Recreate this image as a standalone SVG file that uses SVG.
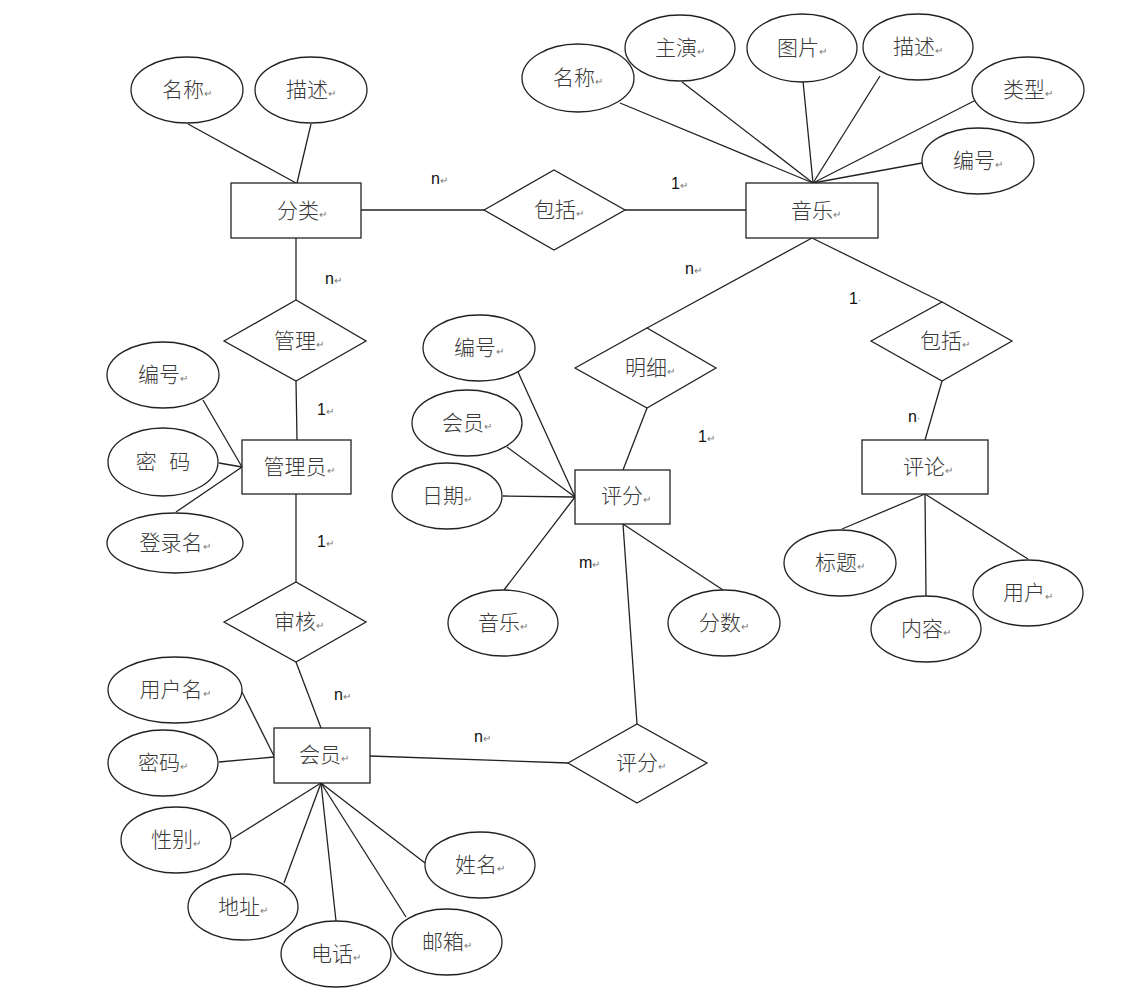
<svg xmlns="http://www.w3.org/2000/svg" width="1133" height="1002" viewBox="0 0 1133 1002">
<style>
.s{fill:#fff;stroke:#222;stroke-width:1.3}
.l{stroke:#222;stroke-width:1.3;fill:none}
.t{font-family:"Noto Sans CJK SC","Noto Sans",sans-serif;font-size:21px;font-weight:300;fill:#3a3a3a;text-anchor:middle}
.m{font-size:10px;fill:#777}
.c{font-family:"Liberation Sans",Arial,sans-serif;font-size:16px;fill:#111}
</style>
<rect width="1133" height="1002" fill="#fff"/>
<g id="connectors" class="l">
<line x1="188" y1="124" x2="296" y2="183"/>
<line x1="311" y1="124" x2="297" y2="183"/>
<line x1="361" y1="210" x2="484" y2="210"/>
<line x1="625" y1="210" x2="746" y2="210"/>
<line x1="620" y1="103" x2="813" y2="183"/>
<line x1="682" y1="82" x2="813" y2="183"/>
<line x1="803" y1="81" x2="813" y2="183"/>
<line x1="880" y1="76" x2="813" y2="183"/>
<line x1="976" y1="100" x2="813" y2="183"/>
<line x1="922" y1="163" x2="813" y2="183"/>
<line x1="296" y1="238" x2="296" y2="300"/>
<line x1="296" y1="381" x2="297" y2="440"/>
<line x1="203" y1="400" x2="242" y2="467"/>
<line x1="219" y1="463" x2="242" y2="467"/>
<line x1="176" y1="512" x2="242" y2="467"/>
<line x1="296" y1="494" x2="296" y2="582"/>
<line x1="296" y1="662" x2="321" y2="728"/>
<line x1="242" y1="692" x2="274" y2="756"/>
<line x1="219" y1="762" x2="274" y2="757"/>
<line x1="230" y1="840" x2="321" y2="783"/>
<line x1="284" y1="883" x2="321" y2="783"/>
<line x1="336" y1="921" x2="321" y2="783"/>
<line x1="406" y1="917" x2="321" y2="783"/>
<line x1="425" y1="863" x2="321" y2="783"/>
<line x1="370" y1="756" x2="568" y2="763"/>
<line x1="637" y1="724" x2="623" y2="524"/>
<line x1="812" y1="238" x2="647" y2="328"/>
<line x1="647" y1="408" x2="623" y2="470"/>
<line x1="518" y1="372" x2="575" y2="497"/>
<line x1="507" y1="447" x2="575" y2="497"/>
<line x1="503" y1="496" x2="575" y2="497"/>
<line x1="504" y1="590" x2="575" y2="497"/>
<line x1="623" y1="524" x2="723" y2="590"/>
<line x1="812" y1="238" x2="942" y2="302"/>
<line x1="942" y1="381" x2="925" y2="440"/>
<line x1="925" y1="494" x2="842" y2="529"/>
<line x1="925" y1="494" x2="926" y2="596"/>
<line x1="925" y1="494" x2="1028" y2="559"/>
</g>
<g id="cardinalities" class="c">
<text x="431" y="184">n<tspan class="m">↵</tspan></text>
<text x="671" y="189">1<tspan class="m">↵</tspan></text>
<text x="325" y="284">n<tspan class="m">↵</tspan></text>
<text x="317" y="415">1<tspan class="m">↵</tspan></text>
<text x="317" y="547">1<tspan class="m">↵</tspan></text>
<text x="334" y="700">n<tspan class="m">↵</tspan></text>
<text x="474" y="742">n<tspan class="m">↵</tspan></text>
<text x="579" y="568">m<tspan class="m">↵</tspan></text>
<text x="685" y="274">n<tspan class="m">↵</tspan></text>
<text x="698" y="442">1<tspan class="m">↵</tspan></text>
<text x="849" y="304">1<tspan class="m">·</tspan></text>
<text x="908" y="422">n<tspan class="m">·</tspan></text>
</g>
<g id="fenlei"><rect class="s" x="231" y="183" width="130" height="55"/><text class="t" x="302" y="218">分类<tspan class="m">↵</tspan></text></g>
<g id="fenlei-mingcheng"><ellipse class="s" cx="187" cy="90" rx="56" ry="33"/><text class="t" x="187" y="97">名称<tspan class="m">↵</tspan></text></g>
<g id="fenlei-miaoshu"><ellipse class="s" cx="311" cy="90" rx="56" ry="33"/><text class="t" x="311" y="97">描述<tspan class="m">↵</tspan></text></g>
<g id="baokuo1"><polygon class="s" points="484,210 554,170 625,210 554,250"/><text class="t" x="559" y="217">包括<tspan class="m">↵</tspan></text></g>
<g id="yinyue"><rect class="s" x="746" y="183" width="132" height="55"/><text class="t" x="816" y="218">音乐<tspan class="m">↵</tspan></text></g>
<g id="yy-mingcheng"><ellipse class="s" cx="578" cy="78" rx="56" ry="34"/><text class="t" x="578" y="85">名称<tspan class="m">↵</tspan></text></g>
<g id="yy-zhuyan"><ellipse class="s" cx="680" cy="48" rx="55" ry="33"/><text class="t" x="680" y="55">主演<tspan class="m">↵</tspan></text></g>
<g id="yy-tupian"><ellipse class="s" cx="802" cy="48" rx="55" ry="34"/><text class="t" x="802" y="55">图片<tspan class="m">↵</tspan></text></g>
<g id="yy-miaoshu"><ellipse class="s" cx="918" cy="47" rx="55" ry="33"/><text class="t" x="918" y="54">描述<tspan class="m">↵</tspan></text></g>
<g id="yy-leixing"><ellipse class="s" cx="1028" cy="90" rx="56" ry="33"/><text class="t" x="1028" y="97">类型<tspan class="m">↵</tspan></text></g>
<g id="yy-bianhao"><ellipse class="s" cx="978" cy="161" rx="56" ry="33"/><text class="t" x="978" y="168">编号<tspan class="m">↵</tspan></text></g>
<g id="guanli"><polygon class="s" points="224,341 296,300 366,341 296,381"/><text class="t" x="299" y="348">管理<tspan class="m">↵</tspan></text></g>
<g id="guanliyuan"><rect class="s" x="242" y="440" width="109" height="54"/><text class="t" x="299" y="474">管理员<tspan class="m">↵</tspan></text></g>
<g id="gly-bianhao"><ellipse class="s" cx="163" cy="375" rx="56" ry="33"/><text class="t" x="163" y="382">编号<tspan class="m">↵</tspan></text></g>
<g id="gly-mima"><ellipse class="s" cx="163" cy="462" rx="55" ry="34"/><text class="t" x="163" y="469" word-spacing="8">密 码</text></g>
<g id="gly-dengluming"><ellipse class="s" cx="175" cy="543" rx="68" ry="30"/><text class="t" x="175" y="550">登录名<tspan class="m">↵</tspan></text></g>
<g id="shenhe"><polygon class="s" points="224,622 296,582 366,622 296,662"/><text class="t" x="299" y="629">审核<tspan class="m">↵</tspan></text></g>
<g id="huiyuan"><rect class="s" x="274" y="728" width="96" height="55"/><text class="t" x="324" y="762">会员<tspan class="m">↵</tspan></text></g>
<g id="hy-yonghuming"><ellipse class="s" cx="175" cy="690" rx="67" ry="33"/><text class="t" x="175" y="697">用户名<tspan class="m">↵</tspan></text></g>
<g id="hy-mima"><ellipse class="s" cx="163" cy="763" rx="55" ry="33"/><text class="t" x="163" y="770">密码<tspan class="m">↵</tspan></text></g>
<g id="hy-xingbie"><ellipse class="s" cx="176" cy="840" rx="55" ry="33"/><text class="t" x="176" y="847">性别<tspan class="m">↵</tspan></text></g>
<g id="hy-dizhi"><ellipse class="s" cx="243" cy="907" rx="55" ry="33"/><text class="t" x="243" y="914">地址<tspan class="m">↵</tspan></text></g>
<g id="hy-dianhua"><ellipse class="s" cx="336" cy="954" rx="55" ry="33"/><text class="t" x="336" y="961">电话<tspan class="m">↵</tspan></text></g>
<g id="hy-youxiang"><ellipse class="s" cx="447" cy="942" rx="55" ry="33"/><text class="t" x="447" y="949">邮箱<tspan class="m">↵</tspan></text></g>
<g id="hy-xingming"><ellipse class="s" cx="480" cy="865" rx="55" ry="33"/><text class="t" x="480" y="872">姓名<tspan class="m">↵</tspan></text></g>
<g id="pingfen-rel"><polygon class="s" points="568,763 637,724 707,763 637,803"/><text class="t" x="641" y="770">评分<tspan class="m">↵</tspan></text></g>
<g id="mingxi"><polygon class="s" points="575,368 647,328 716,368 647,408"/><text class="t" x="650" y="375">明细<tspan class="m">↵</tspan></text></g>
<g id="pingfen"><rect class="s" x="575" y="470" width="95" height="54"/><text class="t" x="626" y="503">评分<tspan class="m">↵</tspan></text></g>
<g id="pf-bianhao"><ellipse class="s" cx="479" cy="348" rx="56" ry="33"/><text class="t" x="479" y="355">编号<tspan class="m">↵</tspan></text></g>
<g id="pf-huiyuan"><ellipse class="s" cx="467" cy="423" rx="55" ry="33"/><text class="t" x="467" y="430">会员<tspan class="m">↵</tspan></text></g>
<g id="pf-riqi"><ellipse class="s" cx="447" cy="496" rx="55" ry="33"/><text class="t" x="447" y="503">日期<tspan class="m">↵</tspan></text></g>
<g id="pf-yinyue"><ellipse class="s" cx="503" cy="623" rx="55" ry="33"/><text class="t" x="503" y="630">音乐<tspan class="m">↵</tspan></text></g>
<g id="pf-fenshu"><ellipse class="s" cx="724" cy="623" rx="56" ry="33"/><text class="t" x="724" y="630">分数<tspan class="m">↵</tspan></text></g>
<g id="baokuo2"><polygon class="s" points="871,341 942,302 1012,341 942,381"/><text class="t" x="945" y="348">包括<tspan class="m">↵</tspan></text></g>
<g id="pinglun"><rect class="s" x="862" y="440" width="126" height="54"/><text class="t" x="928" y="474">评论<tspan class="m">↵</tspan></text></g>
<g id="pl-biaoti"><ellipse class="s" cx="840" cy="563" rx="56" ry="33"/><text class="t" x="840" y="570">标题<tspan class="m">↵</tspan></text></g>
<g id="pl-neirong"><ellipse class="s" cx="926" cy="629" rx="55" ry="33"/><text class="t" x="926" y="636">内容<tspan class="m">↵</tspan></text></g>
<g id="pl-yonghu"><ellipse class="s" cx="1028" cy="593" rx="55" ry="33"/><text class="t" x="1028" y="600">用户<tspan class="m">↵</tspan></text></g>
</svg>
